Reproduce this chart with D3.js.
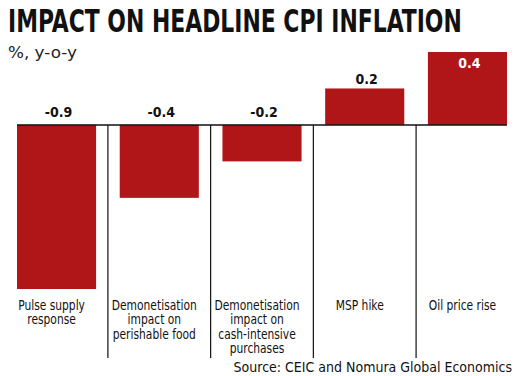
<!DOCTYPE html>
<html>
<head>
	<meta charset="utf-8">
	<title>Impact on headline CPI inflation</title>
	<script src="https://d3js.org/d3.v7.min.js"></script>
	<style>
		body { margin: 0; background: #fff; }
		text { font-family: "Liberation Sans Narrow", "DejaVu Sans Condensed", "Roboto Condensed", sans-serif; }
	</style>
</head>
<body>
	<div id="chart"></div>
	<script>
		// Data
		var categories = ["Pulse supply response", "Demonetisation impact on perishable food",
			"Demonetisation impact on cash-intensive purchases", "MSP hike", "Oil price rise"];
		var labelLines = [
			["Pulse supply", "response"],
			["Demonetisation", "impact on", "perishable food"],
			["Demonetisation", "impact on", "cash-intensive", "purchases"],
			["MSP hike"],
			["Oil price rise"]
		];
		var values = [-0.9, -0.4, -0.2, 0.2, 0.4];

		var width = 516, height = 376;

		var x = d3.scaleBand()
			.domain(categories)
			.range([17, 507])
			.paddingInner(0.23)
			.paddingOuter(0);
		var y = d3.scaleLinear()
			.domain([-0.9, 0.4])
			.range([289, 52]);

		var svg = d3.select("#chart")
			.append("svg")
			.attr("width", width)
			.attr("height", height);

		// squeeze a text horizontally so it spans the given width
		function fitWidth(g, t, x0, w) {
			var k = w / t.node().getComputedTextLength();
			g.attr("transform", "translate(" + x0 + ",0) scale(" + k + ",1)");
		}

		// Title + unit
		var tg = svg.append("g");
		var title = tg.append("text")
			.attr("x", 0).attr("y", 32)
			.attr("font-size", 32)
			.attr("font-weight", "bold")
			.attr("fill", "#111")
			.text("IMPACT ON HEADLINE CPI INFLATION");
		fitWidth(tg, title, 8, 454);

		var sg = svg.append("g");
		var sub = sg.append("text")
			.attr("x", 0).attr("y", 58)
			.attr("font-size", 16)
			.attr("fill", "#222")
			.text("%, y-o-y");
		fitWidth(sg, sub, 8, 69);

		var gap = x.step() - x.bandwidth();

		// Bars
		svg.selectAll(".bar")
			.data(values)
			.enter()
			.append("rect")
			.attr("x", (d, i) => x(categories[i]))
			.attr("y", d => y(Math.max(0, d)))
			.attr("width", x.bandwidth())
			.attr("height", d => Math.abs(y(d) - y(0)))
			.attr("fill", "#b01517");

		// Separators
		svg.selectAll(".sep")
			.data(categories.slice(1))
			.enter()
			.append("line")
			.attr("x1", d => x(d) - gap / 2)
			.attr("x2", d => x(d) - gap / 2)
			.attr("y1", y(0))
			.attr("y2", 358)
			.attr("stroke", "#111")
			.attr("stroke-width", 1.2);

		// Zero line
		svg.append("line")
			.attr("x1", x.range()[0]).attr("x2", x.range()[1])
			.attr("y1", y(0)).attr("y2", y(0))
			.attr("stroke", "#111")
			.attr("stroke-width", 1.5);

		// Value labels
		svg.selectAll(".val")
			.data(values)
			.enter()
			.append("text")
			.attr("x", (d, i) => x(categories[i]) + x.bandwidth() / 2 + 2)
			.attr("y", (d, i) => d < 0 ? y(0) - 8 : (i === values.length - 1 ? y(d) + 16 : y(d) - 4))
			.attr("text-anchor", "middle")
			.attr("font-size", 14)
			.attr("font-weight", "bold")
			.attr("fill", (d, i) => i === values.length - 1 ? "#fff" : "#111")
			.text(d => d.toFixed(1));

		// Category labels (squeezed horizontally to mimic the condensed face)
		labelLines.forEach(function(lines, i) {
			var g = svg.append("g")
				.attr("transform", "translate(" + (x(categories[i]) + x.bandwidth() / 2 - 5) + ",0) scale(0.85,1)");
			var t = g.append("text")
				.attr("text-anchor", "middle")
				.attr("font-size", 14)
				.attr("fill", "#111");
			t.selectAll("tspan")
				.data(lines)
				.enter()
				.append("tspan")
				.attr("x", 0)
				.attr("y", (d, j) => 310 + j * 14.5)
				.text(d => d);
		});

		// Source
		svg.append("text")
			.attr("x", 512).attr("y", 372)
			.attr("text-anchor", "end")
			.attr("font-size", 14)
			.attr("fill", "#111")
			.text("Source:  CEIC and Nomura Global Economics");
	</script>
</body>
</html>
